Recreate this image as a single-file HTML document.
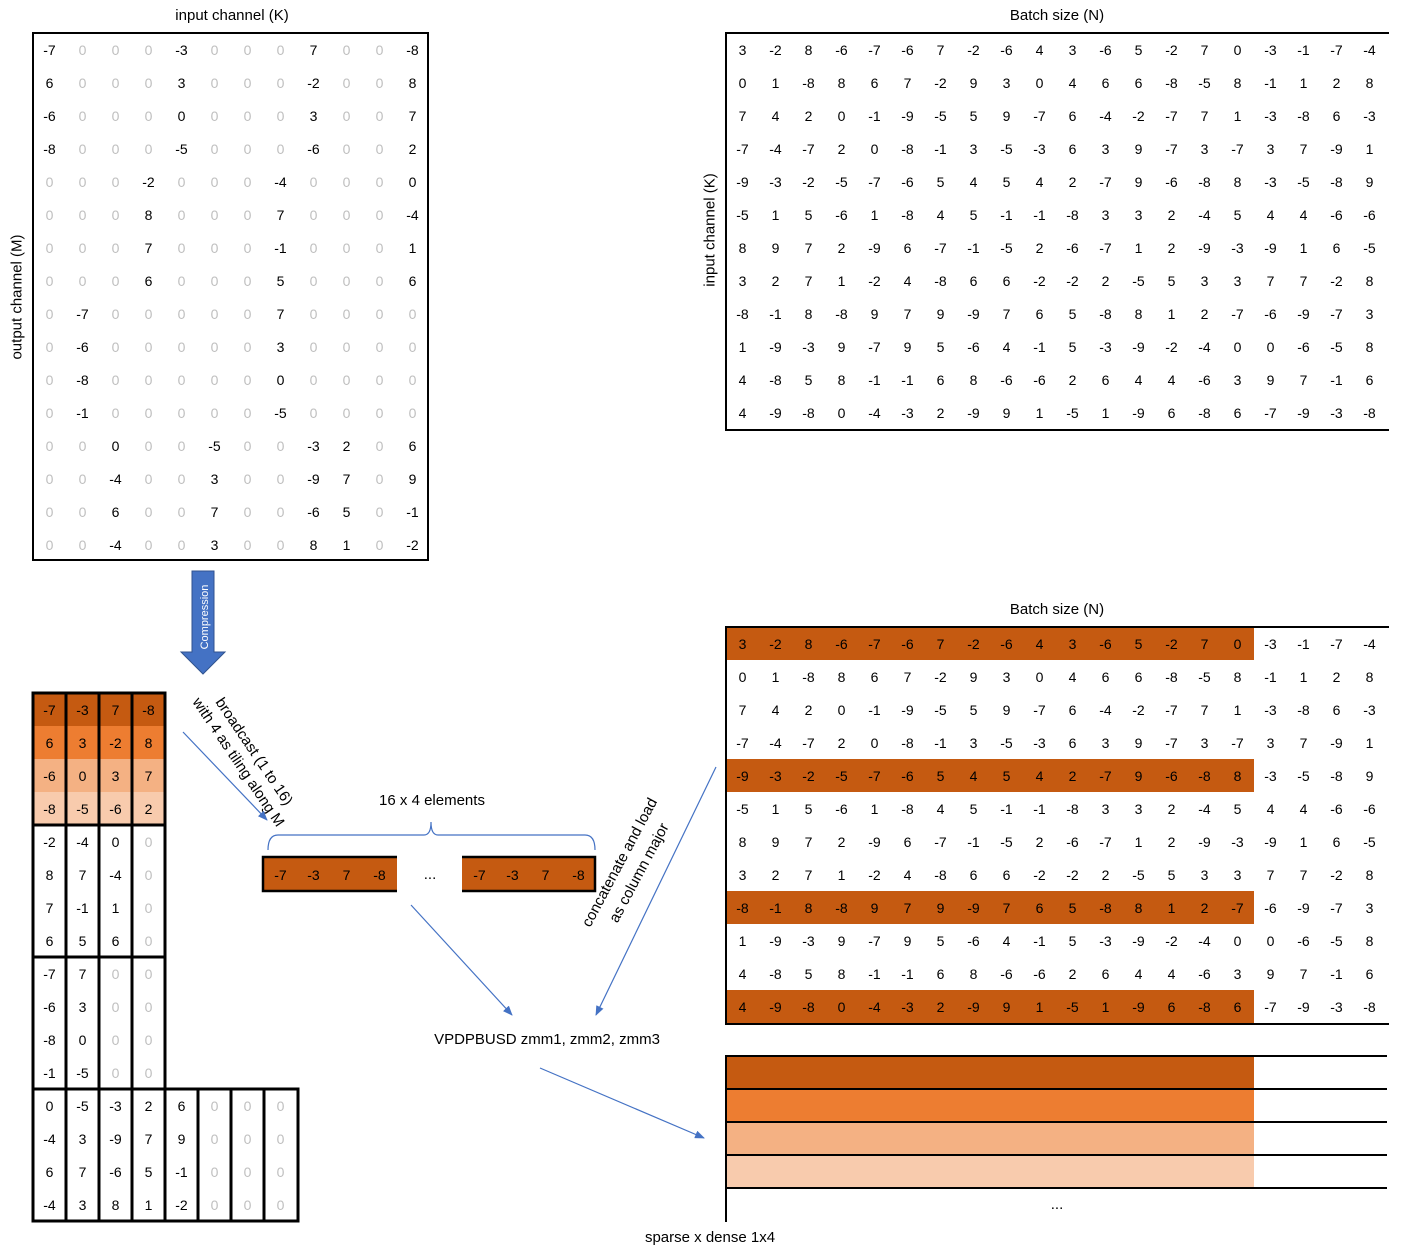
<!DOCTYPE html>
<html><head><meta charset="utf-8"><style>
body{margin:0;width:1420px;height:1255px;background:#fff;position:relative;font-family:"Liberation Sans",sans-serif;overflow:hidden}
.m{position:absolute;font-size:14px;color:#000}
.m div{display:flex;height:33px}
.m span{width:33px;text-align:center;line-height:35px;flex:none}
.g{color:#bfbfbf}
.lbl{position:absolute;font-size:15px;white-space:nowrap}
.bg{position:absolute}
</style></head><body>

<div class="lbl" style="left:232px;top:7px;transform:translateX(-50%)">input channel (K)</div>
<div class="lbl" style="left:17px;top:297px;transform:translate(-50%,-50%) rotate(-90deg)">output channel (M)</div>
<div class="lbl" style="left:1057px;top:7px;transform:translateX(-50%)">Batch size (N)</div>
<div class="lbl" style="left:1057px;top:601px;transform:translateX(-50%)">Batch size (N)</div>
<div class="lbl" style="left:710px;top:230px;transform:translate(-50%,-50%) rotate(-90deg)">input channel (K)</div>

<div style="position:absolute;left:32px;top:32px;width:393px;height:525px;border:2px solid #000"></div>
<div class="m" style="left:33px;top:33px">
<div><span>-7</span><span class="g">0</span><span class="g">0</span><span class="g">0</span><span>-3</span><span class="g">0</span><span class="g">0</span><span class="g">0</span><span>7</span><span class="g">0</span><span class="g">0</span><span>-8</span></div>
<div><span>6</span><span class="g">0</span><span class="g">0</span><span class="g">0</span><span>3</span><span class="g">0</span><span class="g">0</span><span class="g">0</span><span>-2</span><span class="g">0</span><span class="g">0</span><span>8</span></div>
<div><span>-6</span><span class="g">0</span><span class="g">0</span><span class="g">0</span><span>0</span><span class="g">0</span><span class="g">0</span><span class="g">0</span><span>3</span><span class="g">0</span><span class="g">0</span><span>7</span></div>
<div><span>-8</span><span class="g">0</span><span class="g">0</span><span class="g">0</span><span>-5</span><span class="g">0</span><span class="g">0</span><span class="g">0</span><span>-6</span><span class="g">0</span><span class="g">0</span><span>2</span></div>
<div><span class="g">0</span><span class="g">0</span><span class="g">0</span><span>-2</span><span class="g">0</span><span class="g">0</span><span class="g">0</span><span>-4</span><span class="g">0</span><span class="g">0</span><span class="g">0</span><span>0</span></div>
<div><span class="g">0</span><span class="g">0</span><span class="g">0</span><span>8</span><span class="g">0</span><span class="g">0</span><span class="g">0</span><span>7</span><span class="g">0</span><span class="g">0</span><span class="g">0</span><span>-4</span></div>
<div><span class="g">0</span><span class="g">0</span><span class="g">0</span><span>7</span><span class="g">0</span><span class="g">0</span><span class="g">0</span><span>-1</span><span class="g">0</span><span class="g">0</span><span class="g">0</span><span>1</span></div>
<div><span class="g">0</span><span class="g">0</span><span class="g">0</span><span>6</span><span class="g">0</span><span class="g">0</span><span class="g">0</span><span>5</span><span class="g">0</span><span class="g">0</span><span class="g">0</span><span>6</span></div>
<div><span class="g">0</span><span>-7</span><span class="g">0</span><span class="g">0</span><span class="g">0</span><span class="g">0</span><span class="g">0</span><span>7</span><span class="g">0</span><span class="g">0</span><span class="g">0</span><span class="g">0</span></div>
<div><span class="g">0</span><span>-6</span><span class="g">0</span><span class="g">0</span><span class="g">0</span><span class="g">0</span><span class="g">0</span><span>3</span><span class="g">0</span><span class="g">0</span><span class="g">0</span><span class="g">0</span></div>
<div><span class="g">0</span><span>-8</span><span class="g">0</span><span class="g">0</span><span class="g">0</span><span class="g">0</span><span class="g">0</span><span>0</span><span class="g">0</span><span class="g">0</span><span class="g">0</span><span class="g">0</span></div>
<div><span class="g">0</span><span>-1</span><span class="g">0</span><span class="g">0</span><span class="g">0</span><span class="g">0</span><span class="g">0</span><span>-5</span><span class="g">0</span><span class="g">0</span><span class="g">0</span><span class="g">0</span></div>
<div><span class="g">0</span><span class="g">0</span><span>0</span><span class="g">0</span><span class="g">0</span><span>-5</span><span class="g">0</span><span class="g">0</span><span>-3</span><span>2</span><span class="g">0</span><span>6</span></div>
<div><span class="g">0</span><span class="g">0</span><span>-4</span><span class="g">0</span><span class="g">0</span><span>3</span><span class="g">0</span><span class="g">0</span><span>-9</span><span>7</span><span class="g">0</span><span>9</span></div>
<div><span class="g">0</span><span class="g">0</span><span>6</span><span class="g">0</span><span class="g">0</span><span>7</span><span class="g">0</span><span class="g">0</span><span>-6</span><span>5</span><span class="g">0</span><span>-1</span></div>
<div><span class="g">0</span><span class="g">0</span><span>-4</span><span class="g">0</span><span class="g">0</span><span>3</span><span class="g">0</span><span class="g">0</span><span>8</span><span>1</span><span class="g">0</span><span>-2</span></div>
</div>

<div style="position:absolute;left:725px;top:32px;width:662px;height:395px;border:2px solid #000;border-right:none"></div>
<div class="m" style="left:726px;top:33px">
<div><span>3</span><span>-2</span><span>8</span><span>-6</span><span>-7</span><span>-6</span><span>7</span><span>-2</span><span>-6</span><span>4</span><span>3</span><span>-6</span><span>5</span><span>-2</span><span>7</span><span>0</span><span>-3</span><span>-1</span><span>-7</span><span>-4</span></div>
<div><span>0</span><span>1</span><span>-8</span><span>8</span><span>6</span><span>7</span><span>-2</span><span>9</span><span>3</span><span>0</span><span>4</span><span>6</span><span>6</span><span>-8</span><span>-5</span><span>8</span><span>-1</span><span>1</span><span>2</span><span>8</span></div>
<div><span>7</span><span>4</span><span>2</span><span>0</span><span>-1</span><span>-9</span><span>-5</span><span>5</span><span>9</span><span>-7</span><span>6</span><span>-4</span><span>-2</span><span>-7</span><span>7</span><span>1</span><span>-3</span><span>-8</span><span>6</span><span>-3</span></div>
<div><span>-7</span><span>-4</span><span>-7</span><span>2</span><span>0</span><span>-8</span><span>-1</span><span>3</span><span>-5</span><span>-3</span><span>6</span><span>3</span><span>9</span><span>-7</span><span>3</span><span>-7</span><span>3</span><span>7</span><span>-9</span><span>1</span></div>
<div><span>-9</span><span>-3</span><span>-2</span><span>-5</span><span>-7</span><span>-6</span><span>5</span><span>4</span><span>5</span><span>4</span><span>2</span><span>-7</span><span>9</span><span>-6</span><span>-8</span><span>8</span><span>-3</span><span>-5</span><span>-8</span><span>9</span></div>
<div><span>-5</span><span>1</span><span>5</span><span>-6</span><span>1</span><span>-8</span><span>4</span><span>5</span><span>-1</span><span>-1</span><span>-8</span><span>3</span><span>3</span><span>2</span><span>-4</span><span>5</span><span>4</span><span>4</span><span>-6</span><span>-6</span></div>
<div><span>8</span><span>9</span><span>7</span><span>2</span><span>-9</span><span>6</span><span>-7</span><span>-1</span><span>-5</span><span>2</span><span>-6</span><span>-7</span><span>1</span><span>2</span><span>-9</span><span>-3</span><span>-9</span><span>1</span><span>6</span><span>-5</span></div>
<div><span>3</span><span>2</span><span>7</span><span>1</span><span>-2</span><span>4</span><span>-8</span><span>6</span><span>6</span><span>-2</span><span>-2</span><span>2</span><span>-5</span><span>5</span><span>3</span><span>3</span><span>7</span><span>7</span><span>-2</span><span>8</span></div>
<div><span>-8</span><span>-1</span><span>8</span><span>-8</span><span>9</span><span>7</span><span>9</span><span>-9</span><span>7</span><span>6</span><span>5</span><span>-8</span><span>8</span><span>1</span><span>2</span><span>-7</span><span>-6</span><span>-9</span><span>-7</span><span>3</span></div>
<div><span>1</span><span>-9</span><span>-3</span><span>9</span><span>-7</span><span>9</span><span>5</span><span>-6</span><span>4</span><span>-1</span><span>5</span><span>-3</span><span>-9</span><span>-2</span><span>-4</span><span>0</span><span>0</span><span>-6</span><span>-5</span><span>8</span></div>
<div><span>4</span><span>-8</span><span>5</span><span>8</span><span>-1</span><span>-1</span><span>6</span><span>8</span><span>-6</span><span>-6</span><span>2</span><span>6</span><span>4</span><span>4</span><span>-6</span><span>3</span><span>9</span><span>7</span><span>-1</span><span>6</span></div>
<div><span>4</span><span>-9</span><span>-8</span><span>0</span><span>-4</span><span>-3</span><span>2</span><span>-9</span><span>9</span><span>1</span><span>-5</span><span>1</span><span>-9</span><span>6</span><span>-8</span><span>6</span><span>-7</span><span>-9</span><span>-3</span><span>-8</span></div>
</div>

<div class="bg" style="left:726px;top:627px;width:528px;height:33px;background:#C55A11"></div>
<div class="bg" style="left:726px;top:759px;width:528px;height:33px;background:#C55A11"></div>
<div class="bg" style="left:726px;top:891px;width:528px;height:33px;background:#C55A11"></div>
<div class="bg" style="left:726px;top:990px;width:528px;height:33px;background:#C55A11"></div>
<div style="position:absolute;left:725px;top:626px;width:662px;height:395px;border:2px solid #000;border-right:none"></div>
<div class="m" style="left:726px;top:627px">
<div><span>3</span><span>-2</span><span>8</span><span>-6</span><span>-7</span><span>-6</span><span>7</span><span>-2</span><span>-6</span><span>4</span><span>3</span><span>-6</span><span>5</span><span>-2</span><span>7</span><span>0</span><span>-3</span><span>-1</span><span>-7</span><span>-4</span></div>
<div><span>0</span><span>1</span><span>-8</span><span>8</span><span>6</span><span>7</span><span>-2</span><span>9</span><span>3</span><span>0</span><span>4</span><span>6</span><span>6</span><span>-8</span><span>-5</span><span>8</span><span>-1</span><span>1</span><span>2</span><span>8</span></div>
<div><span>7</span><span>4</span><span>2</span><span>0</span><span>-1</span><span>-9</span><span>-5</span><span>5</span><span>9</span><span>-7</span><span>6</span><span>-4</span><span>-2</span><span>-7</span><span>7</span><span>1</span><span>-3</span><span>-8</span><span>6</span><span>-3</span></div>
<div><span>-7</span><span>-4</span><span>-7</span><span>2</span><span>0</span><span>-8</span><span>-1</span><span>3</span><span>-5</span><span>-3</span><span>6</span><span>3</span><span>9</span><span>-7</span><span>3</span><span>-7</span><span>3</span><span>7</span><span>-9</span><span>1</span></div>
<div><span>-9</span><span>-3</span><span>-2</span><span>-5</span><span>-7</span><span>-6</span><span>5</span><span>4</span><span>5</span><span>4</span><span>2</span><span>-7</span><span>9</span><span>-6</span><span>-8</span><span>8</span><span>-3</span><span>-5</span><span>-8</span><span>9</span></div>
<div><span>-5</span><span>1</span><span>5</span><span>-6</span><span>1</span><span>-8</span><span>4</span><span>5</span><span>-1</span><span>-1</span><span>-8</span><span>3</span><span>3</span><span>2</span><span>-4</span><span>5</span><span>4</span><span>4</span><span>-6</span><span>-6</span></div>
<div><span>8</span><span>9</span><span>7</span><span>2</span><span>-9</span><span>6</span><span>-7</span><span>-1</span><span>-5</span><span>2</span><span>-6</span><span>-7</span><span>1</span><span>2</span><span>-9</span><span>-3</span><span>-9</span><span>1</span><span>6</span><span>-5</span></div>
<div><span>3</span><span>2</span><span>7</span><span>1</span><span>-2</span><span>4</span><span>-8</span><span>6</span><span>6</span><span>-2</span><span>-2</span><span>2</span><span>-5</span><span>5</span><span>3</span><span>3</span><span>7</span><span>7</span><span>-2</span><span>8</span></div>
<div><span>-8</span><span>-1</span><span>8</span><span>-8</span><span>9</span><span>7</span><span>9</span><span>-9</span><span>7</span><span>6</span><span>5</span><span>-8</span><span>8</span><span>1</span><span>2</span><span>-7</span><span>-6</span><span>-9</span><span>-7</span><span>3</span></div>
<div><span>1</span><span>-9</span><span>-3</span><span>9</span><span>-7</span><span>9</span><span>5</span><span>-6</span><span>4</span><span>-1</span><span>5</span><span>-3</span><span>-9</span><span>-2</span><span>-4</span><span>0</span><span>0</span><span>-6</span><span>-5</span><span>8</span></div>
<div><span>4</span><span>-8</span><span>5</span><span>8</span><span>-1</span><span>-1</span><span>6</span><span>8</span><span>-6</span><span>-6</span><span>2</span><span>6</span><span>4</span><span>4</span><span>-6</span><span>3</span><span>9</span><span>7</span><span>-1</span><span>6</span></div>
<div><span>4</span><span>-9</span><span>-8</span><span>0</span><span>-4</span><span>-3</span><span>2</span><span>-9</span><span>9</span><span>1</span><span>-5</span><span>1</span><span>-9</span><span>6</span><span>-8</span><span>6</span><span>-7</span><span>-9</span><span>-3</span><span>-8</span></div>
</div>

<div class="bg" style="left:726px;top:1056px;width:528px;height:33px;background:#C55A11"></div>
<div class="bg" style="left:726px;top:1089px;width:528px;height:33px;background:#ED7D31"></div>
<div class="bg" style="left:726px;top:1122px;width:528px;height:33px;background:#F4B183"></div>
<div class="bg" style="left:726px;top:1155px;width:528px;height:33px;background:#F8CBAD"></div>
<div class="lbl" style="left:1057px;top:1196px;transform:translateX(-50%)">...</div>
<div class="lbl" style="left:710px;top:1229px;transform:translateX(-50%)">sparse x dense 1x4</div>

<div class="bg" style="left:33px;top:693px;width:132px;height:33px;background:#C55A11"></div>
<div class="bg" style="left:33px;top:726px;width:132px;height:33px;background:#ED7D31"></div>
<div class="bg" style="left:33px;top:759px;width:132px;height:33px;background:#F4B183"></div>
<div class="bg" style="left:33px;top:792px;width:132px;height:33px;background:#F8CBAD"></div>
<div class="m" style="left:33px;top:693px">
<div><span>-7</span><span>-3</span><span>7</span><span>-8</span></div>
<div><span>6</span><span>3</span><span>-2</span><span>8</span></div>
<div><span>-6</span><span>0</span><span>3</span><span>7</span></div>
<div><span>-8</span><span>-5</span><span>-6</span><span>2</span></div>
<div><span>-2</span><span>-4</span><span>0</span><span class="g">0</span></div>
<div><span>8</span><span>7</span><span>-4</span><span class="g">0</span></div>
<div><span>7</span><span>-1</span><span>1</span><span class="g">0</span></div>
<div><span>6</span><span>5</span><span>6</span><span class="g">0</span></div>
<div><span>-7</span><span>7</span><span class="g">0</span><span class="g">0</span></div>
<div><span>-6</span><span>3</span><span class="g">0</span><span class="g">0</span></div>
<div><span>-8</span><span>0</span><span class="g">0</span><span class="g">0</span></div>
<div><span>-1</span><span>-5</span><span class="g">0</span><span class="g">0</span></div>
<div><span>0</span><span>-5</span><span>-3</span><span>2</span><span>6</span><span class="g">0</span><span class="g">0</span><span class="g">0</span></div>
<div><span>-4</span><span>3</span><span>-9</span><span>7</span><span>9</span><span class="g">0</span><span class="g">0</span><span class="g">0</span></div>
<div><span>6</span><span>7</span><span>-6</span><span>5</span><span>-1</span><span class="g">0</span><span class="g">0</span><span class="g">0</span></div>
<div><span>-4</span><span>3</span><span>8</span><span>1</span><span>-2</span><span class="g">0</span><span class="g">0</span><span class="g">0</span></div>
</div>

<div class="bg" style="left:263px;top:857px;width:134px;height:34px;background:#C55A11"></div>
<div class="bg" style="left:462px;top:857px;width:133px;height:34px;background:#C55A11"></div>
<div class="m" style="left:264px;top:858px"><div><span>-7</span><span>-3</span><span>7</span><span>-8</span></div></div>
<div class="m" style="left:463px;top:858px"><div><span>-7</span><span>-3</span><span>7</span><span>-8</span></div></div>
<div class="lbl" style="left:430px;top:866px;transform:translateX(-50%)">...</div>
<div class="lbl" style="left:432px;top:792px;transform:translateX(-50%)">16 x 4 elements</div>
<div class="lbl" style="left:547px;top:1031px;transform:translateX(-50%)">VPDPBUSD zmm1, zmm2, zmm3</div>

<div class="lbl" style="left:246px;top:757px;transform:translate(-50%,-50%) rotate(56deg);text-align:center;line-height:19px">broadcast (1 to 16)<br>with 4 as tiling along M</div>
<div class="lbl" style="left:630px;top:868px;transform:translate(-50%,-50%) rotate(-62deg);text-align:center;line-height:22px">concatenate and load<br>as column major</div>

<svg width="1420" height="1255" style="position:absolute;left:0;top:0" xmlns="http://www.w3.org/2000/svg">
<defs><marker id="a" markerWidth="10" markerHeight="8" refX="9" refY="4" orient="auto" markerUnits="userSpaceOnUse"><path d="M0,0 L10,4 L0,8 z" fill="#4472C4"/></marker></defs>
<g stroke="#000" stroke-width="3" fill="none">
<rect x="33" y="693" width="132" height="528"/>
<line x1="66" y1="693" x2="66" y2="1221"/><line x1="99" y1="693" x2="99" y2="1221"/><line x1="132" y1="693" x2="132" y2="1221"/>
<line x1="33" y1="825" x2="165" y2="825"/><line x1="33" y1="957" x2="165" y2="957"/><line x1="33" y1="1089" x2="165" y2="1089"/>
<rect x="165" y="1089" width="133" height="132"/>
<line x1="198" y1="1089" x2="198" y2="1221"/><line x1="231" y1="1089" x2="231" y2="1221"/><line x1="264" y1="1089" x2="264" y2="1221"/>
<polyline points="397,857 263,857 263,891 397,891" stroke-width="2.5"/>
<polyline points="462,857 595,857 595,891 462,891" stroke-width="2.5"/>
</g>
<g stroke="#000" stroke-width="2">
<line x1="726" y1="1056" x2="1387" y2="1056"/><line x1="726" y1="1089" x2="1387" y2="1089"/><line x1="726" y1="1122" x2="1387" y2="1122"/><line x1="726" y1="1155" x2="1387" y2="1155"/><line x1="726" y1="1188" x2="1387" y2="1188"/>
<line x1="726" y1="1055" x2="726" y2="1222"/>
</g>
<path d="M268,850 Q268,835 278,835 L424,835 Q431,835 431,822 Q431,835 438,835 L585,835 Q595,835 595,850" stroke="#4472C4" stroke-width="1.2" fill="none"/>
<g stroke="#4472C4" stroke-width="1.2" marker-end="url(#a)">
<line x1="183" y1="732" x2="267" y2="820"/>
<line x1="411" y1="905" x2="512" y2="1015"/>
<line x1="716" y1="767" x2="596" y2="1015"/>
<line x1="540" y1="1068" x2="704" y2="1138"/>
</g>
<path d="M192,571 L214,571 L214,652 L225,652 L203,674 L181,652 L192,652 Z" fill="#4472C4" stroke="#2F528F" stroke-width="1"/>
<text x="0" y="0" transform="translate(208,617) rotate(-90)" text-anchor="middle" font-family="Liberation Sans, sans-serif" font-size="11" fill="#fff">Compression</text>
</svg>
</body></html>
